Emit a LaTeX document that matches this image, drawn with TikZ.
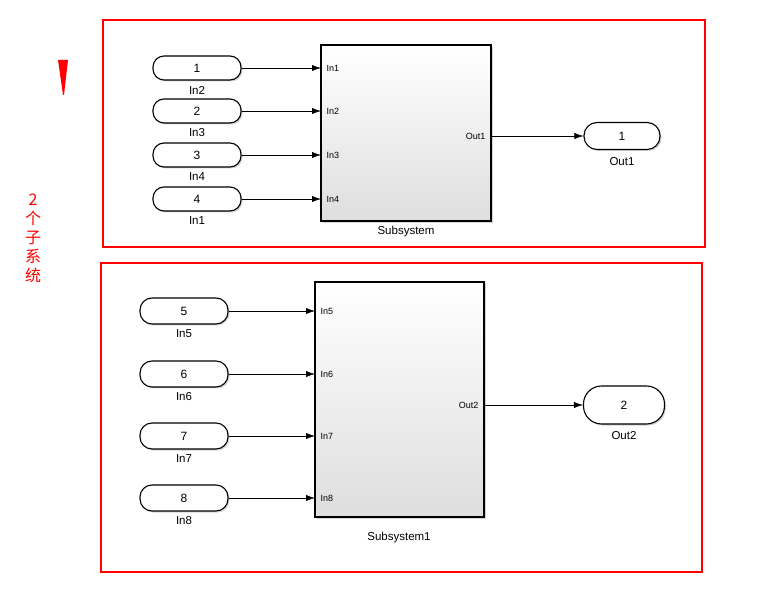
\documentclass[tikz,border=0pt]{standalone}
\usepackage{fontspec}
\setmainfont{Liberation Sans}
\newfontfamily\cjk{Noto Sans CJK SC}
\usetikzlibrary{arrows.meta,shadows}
\begin{document}
\begin{tikzpicture}[x=1pt,y=-1pt,
  redbox/.style={draw=red,line width=2.4pt},
  port/.style={draw,line width=1.1pt,rounded corners=11pt,fill=white,drop shadow={opacity=0.35,shadow xshift=1.5pt,shadow yshift=-1.5pt},font=\fontsize{12}{14}\selectfont},
  sub/.style={draw,line width=1.3pt,top color=white,bottom color=black!13,drop shadow={opacity=0.35,shadow xshift=2pt,shadow yshift=-2pt}},
  lbl/.style={font=\fontsize{11.5}{13}\selectfont},
  pl/.style={font=\fontsize{9}{10}\selectfont},
  wire/.style={-{Latex[length=9pt,width=6pt]}}]
\useasboundingbox (0,0) rectangle (763,601);
\draw[redbox] (103,20) rectangle (705,247);
\draw[redbox] (101,263) rectangle (702,572);
\fill[red] (58,60) -- (68,60) -- (64,95) -- (63,95) -- cycle;
\node[red,font=\cjk\fontsize{16}{19}\selectfont,align=center,inner sep=0] (t) at (33,238) {2\\个\\子\\系\\统};
% top
\draw[sub] (321,45) rectangle (491,221);
\node[lbl] at (406,232) {Subsystem};
\foreach \y/\n/\l/\p in {68/1/In2/In1,111/2/In3/In2,155/3/In4/In3,199/4/In1/In4}{
  \node[port,minimum width=88pt,minimum height=24pt] (i\n) at (197,\y) {\n};
  \node[lbl] at (197,\y+22) {\l};
  \coordinate (p\n) at (321,\y);
  \node[pl,anchor=west] at (323,\y) {\p};
  \draw[wire] (i\n) -- (p\n);
}
\node[pl,anchor=east] at (489,136) {Out1};
\coordinate (o1) at (491,136);
\node[port,minimum width=76pt,minimum height=27pt,rounded corners=13pt] (out1) at (622,136) {1};
\node[lbl] at (622,162) {Out1};
\draw[wire] (o1) -- (out1);
% bottom
\draw[sub] (315,282) rectangle (484,517);
\node[lbl] at (399,538) {Subsystem1};
\foreach \y/\n in {311/5,374/6,436/7,498/8}{
  \node[port,minimum width=88pt,minimum height=26pt,rounded corners=12pt] (j\n) at (184,\y) {\n};
  \node[lbl] at (184,\y+23) {In\n};
  \coordinate (q\n) at (315,\y);
  \node[pl,anchor=west] at (317,\y) {In\n};
  \draw[wire] (j\n) -- (q\n);
}
\node[pl,anchor=east] at (482,405) {Out2};
\coordinate (o2) at (484,405);
\node[port,minimum width=81pt,minimum height=38pt,rounded corners=18pt] (out2) at (624,405) {2};
\node[lbl] at (624,436) {Out2};
\draw[wire] (o2) -- (out2);
\end{tikzpicture}
\end{document}
